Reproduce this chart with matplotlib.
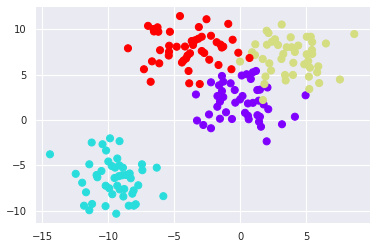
import matplotlib
matplotlib.use("Agg")
import matplotlib.pyplot as plt
import seaborn as sns
import numpy as np

# cluster 0 (purple)
purple_x = [-1.39, -1.29, -1.61, 0.11, 0.48, 0.95, 0.80, -2.22, -0.73, -1.39, -1.73, -1.29,
            -1.54, -1.74, -0.42, -3.36, 1.29, 1.49, 2.06, 4.95, 0.17, -0.02, -0.38, 0.58,
            0.96, 1.40, 1.77, 2.12, -2.37, -1.08, 0.36, 0.58, 0.64, 1.30, 1.49, 1.42,
            1.57, 4.14, -3.28, -2.80, -2.22, -1.54, -0.63, 3.16, 2.00, 1.19]
purple_y = [4.85, 4.22, 3.82, 4.90, 5.04, 5.25, 4.52, 4.15, 4.04, 3.19, 2.64, 2.53,
            2.02, 1.46, 3.30, 2.81, 3.30, 3.34, 3.58, 2.72, 2.64, 2.26, 1.91, 1.82,
            1.89, 2.13, 1.71, 1.19, 0.61, 0.85, 0.79, 0.47, 0.08, 0.53, 0.36, -0.19,
            -0.74, 0.36, -0.06, -0.55, -0.91, 0.14, 0.11, -0.47, -2.35, 5.40]

# cluster 1 (cyan)
cyan_x = [-14.42, -11.26, -9.87, -9.15, -10.44, -10.17, -11.44, -10.00, -9.74, -9.49,
          -9.32, -9.17, -8.89, -10.52, -12.47, -10.89, -10.83, -9.53, -9.21, -8.96,
          -8.66, -8.38, -8.30, -7.45, -7.42, -6.33, -11.98, -10.20, -9.93, -9.32,
          -9.14, -8.79, -7.73, -8.08, -8.18, -11.69, -9.70, -8.86, -5.83, -11.84,
          -11.23, -11.44, -10.21, -8.45, -8.07, -7.92, -9.40]
cyan_y = [-3.78, -2.48, -2.02, -2.33, -2.67, -3.36, -4.88, -4.57, -5.07, -5.25,
          -4.24, -4.99, -5.25, -5.62, -5.93, -6.06, -6.31, -6.39, -6.19, -6.09,
          -6.06, -5.89, -6.42, -4.88, -5.53, -5.25, -6.91, -7.24, -7.52, -7.24,
          -7.65, -7.60, -7.19, -7.76, -8.12, -7.96, -8.18, -8.43, -8.39, -9.44,
          -9.25, -9.94, -9.49, -9.44, -9.44, -9.28, -10.32]

# cluster 2 (yellow)
yellow_x = [3.14, 8.64, 2.00, 2.14, 3.82, 5.04, 5.34, 2.63, 2.40, 2.02, 2.86, 1.14,
            5.45, 6.49, 3.52, 3.89, 4.39, 4.14, 0.89, 1.11, 3.26, 3.12, 5.03, 5.43,
            5.45, -0.02, 1.70, 2.20, 4.02, 5.15, 4.85, 5.91, 5.28, 2.33, 5.83, 3.39,
            3.99, 3.44, 5.20, 1.91, 1.83, 5.98, 7.55, 5.23, 1.72]
yellow_y = [10.52, 9.47, 9.83, 9.58, 9.11, 9.17, 9.17, 8.89, 8.62, 8.29, 8.26, 8.34,
            8.59, 8.43, 8.01, 8.01, 8.20, 7.49, 7.46, 7.16, 7.27, 6.72, 7.24, 7.71,
            7.27, 6.44, 6.72, 6.24, 6.30, 6.50, 6.13, 5.91, 5.76, 5.45, 5.25, 4.96,
            4.96, 4.35, 4.77, 4.79, 3.96, 4.07, 4.46, 3.41, 2.20]

# cluster 3 (red)
red_x = [-4.57, -2.56, -0.91, -6.99, -6.58, -6.27, -6.54, -6.21, -5.33, -3.14, -2.22,
         -2.92, -3.18, -3.43, -3.68, -0.58, -1.79, -1.50, -1.29, -1.40, -8.51, -6.08,
         -5.39, -5.40, -5.42, -4.82, -4.19, -3.58, -2.92, -2.73, -3.81, -4.00, -4.11,
         -4.30, -4.42, -0.15, -2.35, 0.70, -1.65, -0.67, -3.92, -6.69, -6.14, -7.30,
         -6.79, -3.87, -3.07]
red_y = [11.45, 11.10, 10.59, 10.37, 10.02, 10.21, 9.75, 9.72, 9.72, 10.24, 9.28,
         9.17, 8.95, 8.78, 8.70, 8.84, 8.57, 8.31, 8.09, 7.98, 7.90, 7.69,
         8.18, 7.52, 7.10, 8.07, 8.09, 8.26, 7.60, 7.38, 7.35, 7.10, 6.77,
         6.55, 6.33, 7.41, 6.64, 6.83, 6.06, 5.59, 5.40, 6.46, 6.24, 5.59,
         4.21, 4.04, 3.96]

x_ticks = [-15, -10, -5, 0, 5]
y_ticks = [-10, -5, 0, 5, 10]

sns.set_style("darkgrid")
plt.rcParams['font.family'] = ['DejaVu Sans']

fig = plt.figure(figsize=(3.77, 2.48), dpi=100)
ax = fig.add_axes([36 / 377, 24.7 / 248, 334 / 377, 216.6 / 248])

xs = np.concatenate([purple_x, cyan_x, yellow_x, red_x])
ys = np.concatenate([purple_y, cyan_y, yellow_y, red_y])
labels = np.concatenate([np.full(len(purple_x), 0), np.full(len(cyan_x), 1),
                         np.full(len(yellow_x), 2), np.full(len(red_x), 3)])

ax.scatter(xs, ys, c=labels, cmap='rainbow', s=50 * (72 / 100) ** 2,
           linewidths=0.72, vmin=0, vmax=3)

ax.set_xlim(-15.48, 9.83)
ax.set_ylim(-11.38, 12.48)
ax.set_xticks(x_ticks)
ax.set_yticks(y_ticks)
ax.tick_params(labelsize=7.2, pad=3)
for sp in ax.spines.values():
    sp.set_visible(False)

fig.savefig("out.png", dpi=100)
